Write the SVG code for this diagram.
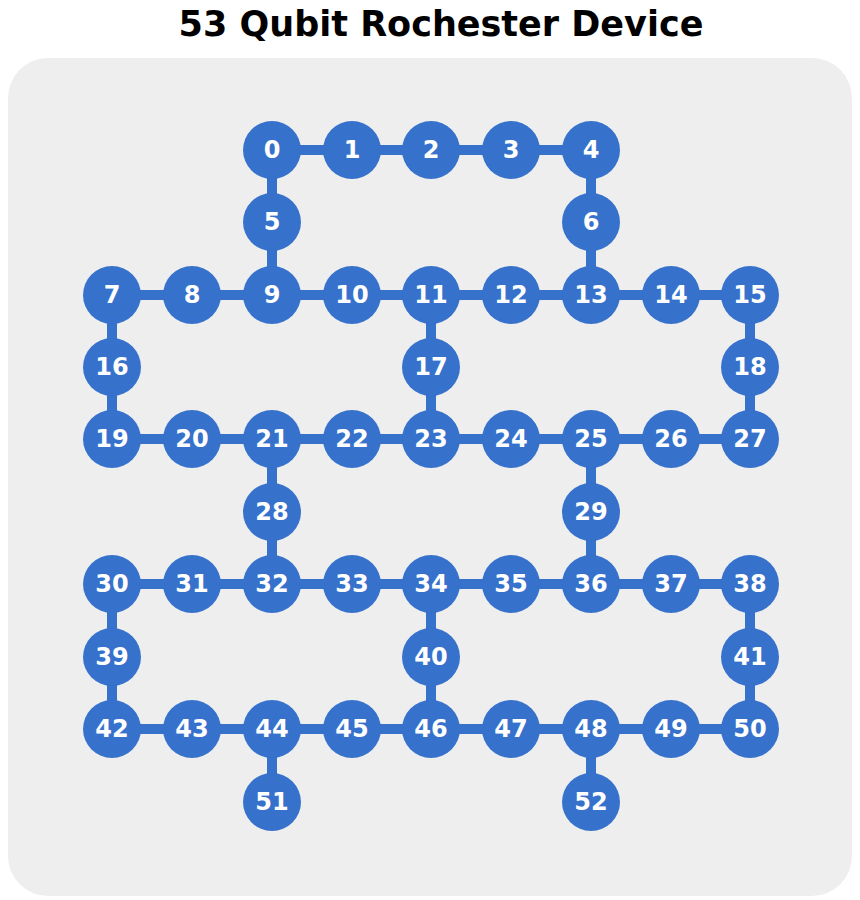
<svg xmlns="http://www.w3.org/2000/svg" width="860" height="900" viewBox="0 0 860 900">
<style>
.n circle{fill:#3671cc}
.n text{fill:#fff;font-family:"DejaVu Sans",sans-serif;font-weight:bold;font-size:24px;text-anchor:middle;dominant-baseline:central}
.e line{stroke:#3671cc;stroke-width:10}
</style>
<rect width="860" height="900" fill="#fff"/>
<rect x="8" y="58" width="844" height="838" rx="40" fill="#eeeeee"/>
<text x="441" y="24" font-family="DejaVu Sans,sans-serif" font-weight="bold" font-size="35" text-anchor="middle" dominant-baseline="central">53 Qubit Rochester Device</text>
<g id="connectors" class="e">
<line x1="272" y1="150" x2="591" y2="150"/>
<line x1="272" y1="150" x2="272" y2="295"/>
<line x1="591" y1="150" x2="591" y2="295"/>
<line x1="112" y1="295" x2="750" y2="295"/>
<line x1="112" y1="295" x2="112" y2="439"/>
<line x1="431" y1="295" x2="431" y2="439"/>
<line x1="750" y1="295" x2="750" y2="439"/>
<line x1="112" y1="439" x2="750" y2="439"/>
<line x1="272" y1="439" x2="272" y2="584"/>
<line x1="591" y1="439" x2="591" y2="584"/>
<line x1="112" y1="584" x2="750" y2="584"/>
<line x1="112" y1="584" x2="112" y2="729"/>
<line x1="431" y1="584" x2="431" y2="729"/>
<line x1="750" y1="584" x2="750" y2="729"/>
<line x1="112" y1="729" x2="750" y2="729"/>
<line x1="272" y1="729" x2="272" y2="802"/>
<line x1="591" y1="729" x2="591" y2="802"/>
</g>
<g class="n">
<g id="q0"><circle cx="272" cy="150" r="29"/><text x="272" y="150">0</text></g>
<g id="q1"><circle cx="352" cy="150" r="29"/><text x="352" y="150">1</text></g>
<g id="q2"><circle cx="431" cy="150" r="29"/><text x="431" y="150">2</text></g>
<g id="q3"><circle cx="511" cy="150" r="29"/><text x="511" y="150">3</text></g>
<g id="q4"><circle cx="591" cy="150" r="29"/><text x="591" y="150">4</text></g>
<g id="q5"><circle cx="272" cy="222" r="29"/><text x="272" y="222">5</text></g>
<g id="q6"><circle cx="591" cy="222" r="29"/><text x="591" y="222">6</text></g>
<g id="q7"><circle cx="112" cy="295" r="29"/><text x="112" y="295">7</text></g>
<g id="q8"><circle cx="192" cy="295" r="29"/><text x="192" y="295">8</text></g>
<g id="q9"><circle cx="272" cy="295" r="29"/><text x="272" y="295">9</text></g>
<g id="q10"><circle cx="352" cy="295" r="29"/><text x="352" y="295">10</text></g>
<g id="q11"><circle cx="431" cy="295" r="29"/><text x="431" y="295">11</text></g>
<g id="q12"><circle cx="511" cy="295" r="29"/><text x="511" y="295">12</text></g>
<g id="q13"><circle cx="591" cy="295" r="29"/><text x="591" y="295">13</text></g>
<g id="q14"><circle cx="671" cy="295" r="29"/><text x="671" y="295">14</text></g>
<g id="q15"><circle cx="750" cy="295" r="29"/><text x="750" y="295">15</text></g>
<g id="q16"><circle cx="112" cy="367" r="29"/><text x="112" y="367">16</text></g>
<g id="q17"><circle cx="431" cy="367" r="29"/><text x="431" y="367">17</text></g>
<g id="q18"><circle cx="750" cy="367" r="29"/><text x="750" y="367">18</text></g>
<g id="q19"><circle cx="112" cy="439" r="29"/><text x="112" y="439">19</text></g>
<g id="q20"><circle cx="192" cy="439" r="29"/><text x="192" y="439">20</text></g>
<g id="q21"><circle cx="272" cy="439" r="29"/><text x="272" y="439">21</text></g>
<g id="q22"><circle cx="352" cy="439" r="29"/><text x="352" y="439">22</text></g>
<g id="q23"><circle cx="431" cy="439" r="29"/><text x="431" y="439">23</text></g>
<g id="q24"><circle cx="511" cy="439" r="29"/><text x="511" y="439">24</text></g>
<g id="q25"><circle cx="591" cy="439" r="29"/><text x="591" y="439">25</text></g>
<g id="q26"><circle cx="671" cy="439" r="29"/><text x="671" y="439">26</text></g>
<g id="q27"><circle cx="750" cy="439" r="29"/><text x="750" y="439">27</text></g>
<g id="q28"><circle cx="272" cy="512" r="29"/><text x="272" y="512">28</text></g>
<g id="q29"><circle cx="591" cy="512" r="29"/><text x="591" y="512">29</text></g>
<g id="q30"><circle cx="112" cy="584" r="29"/><text x="112" y="584">30</text></g>
<g id="q31"><circle cx="192" cy="584" r="29"/><text x="192" y="584">31</text></g>
<g id="q32"><circle cx="272" cy="584" r="29"/><text x="272" y="584">32</text></g>
<g id="q33"><circle cx="352" cy="584" r="29"/><text x="352" y="584">33</text></g>
<g id="q34"><circle cx="431" cy="584" r="29"/><text x="431" y="584">34</text></g>
<g id="q35"><circle cx="511" cy="584" r="29"/><text x="511" y="584">35</text></g>
<g id="q36"><circle cx="591" cy="584" r="29"/><text x="591" y="584">36</text></g>
<g id="q37"><circle cx="671" cy="584" r="29"/><text x="671" y="584">37</text></g>
<g id="q38"><circle cx="750" cy="584" r="29"/><text x="750" y="584">38</text></g>
<g id="q39"><circle cx="112" cy="657" r="29"/><text x="112" y="657">39</text></g>
<g id="q40"><circle cx="431" cy="657" r="29"/><text x="431" y="657">40</text></g>
<g id="q41"><circle cx="750" cy="657" r="29"/><text x="750" y="657">41</text></g>
<g id="q42"><circle cx="112" cy="729" r="29"/><text x="112" y="729">42</text></g>
<g id="q43"><circle cx="192" cy="729" r="29"/><text x="192" y="729">43</text></g>
<g id="q44"><circle cx="272" cy="729" r="29"/><text x="272" y="729">44</text></g>
<g id="q45"><circle cx="352" cy="729" r="29"/><text x="352" y="729">45</text></g>
<g id="q46"><circle cx="431" cy="729" r="29"/><text x="431" y="729">46</text></g>
<g id="q47"><circle cx="511" cy="729" r="29"/><text x="511" y="729">47</text></g>
<g id="q48"><circle cx="591" cy="729" r="29"/><text x="591" y="729">48</text></g>
<g id="q49"><circle cx="671" cy="729" r="29"/><text x="671" y="729">49</text></g>
<g id="q50"><circle cx="750" cy="729" r="29"/><text x="750" y="729">50</text></g>
<g id="q51"><circle cx="272" cy="802" r="29"/><text x="272" y="802">51</text></g>
<g id="q52"><circle cx="591" cy="802" r="29"/><text x="591" y="802">52</text></g>
</g>
</svg>
